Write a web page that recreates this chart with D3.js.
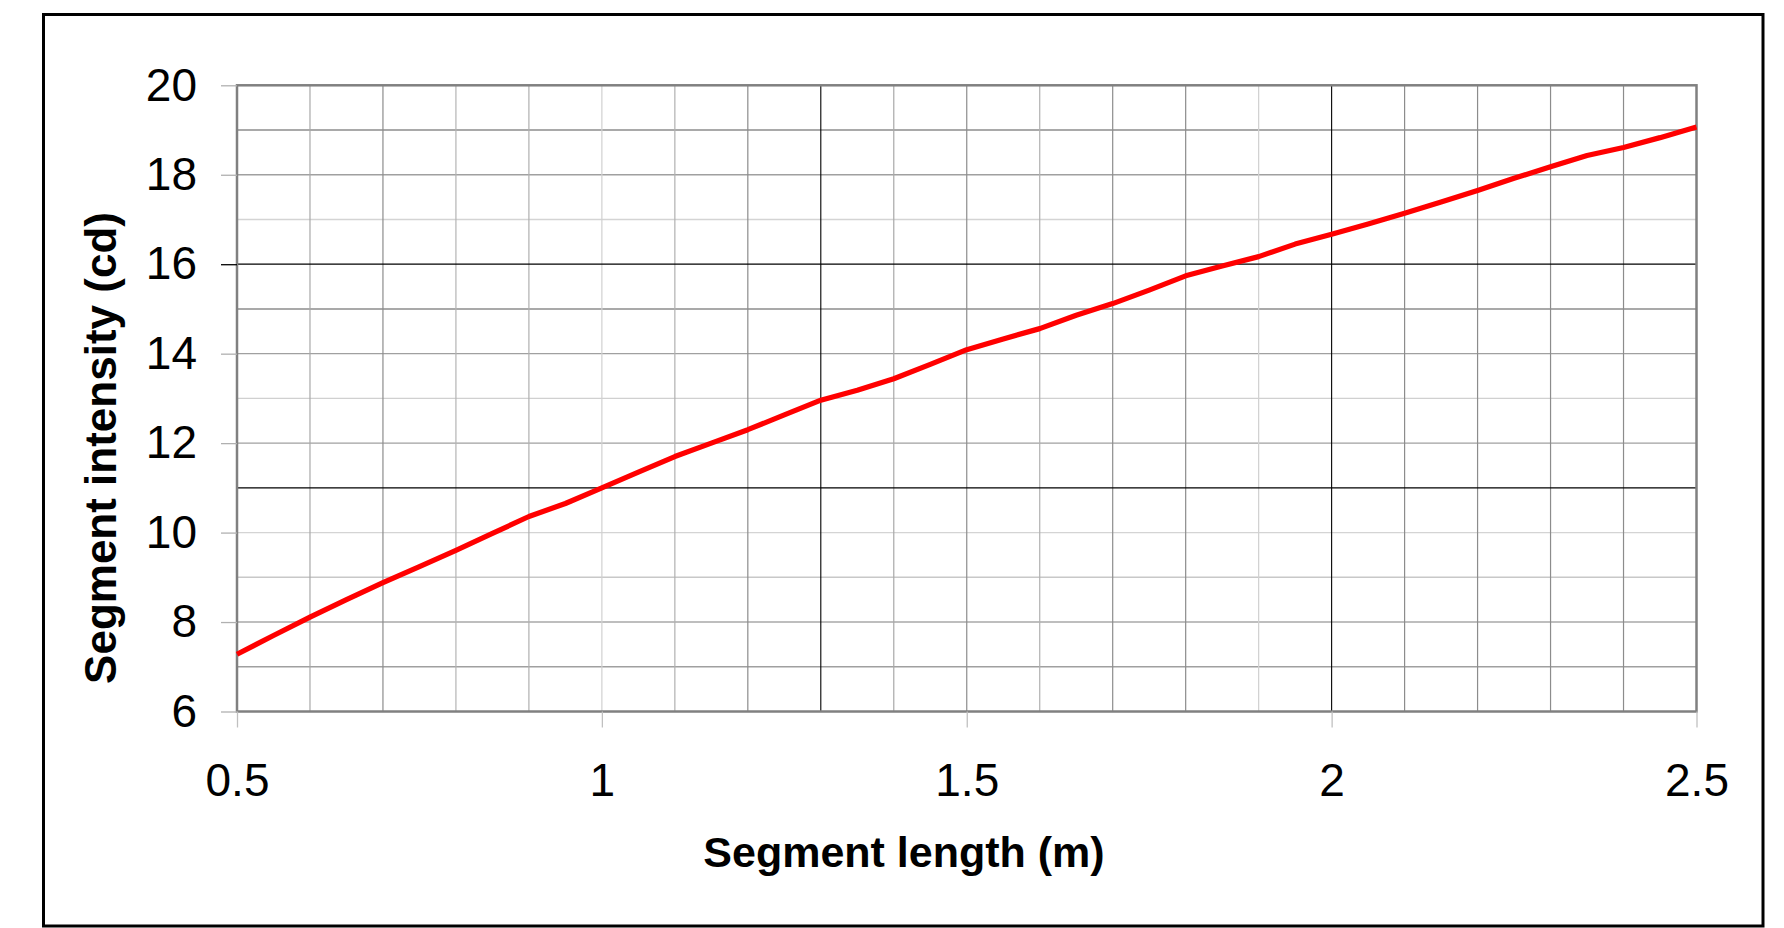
<!DOCTYPE html>
<html>
<head>
<meta charset="utf-8">
<script src="https://cdn.jsdelivr.net/npm/d3@7/dist/d3.min.js"></script>
<style>
  html, body { margin: 0; padding: 0; background: #fff; }
  svg { display: block; }
  text { font-family: "Liberation Sans", Arial, sans-serif; fill: #000; }
</style>
</head>
<body>
<svg id="chart" width="1784" height="928"></svg>
<script>
// ---- data ----
const segmentLength = [0.5, 0.55, 0.6, 0.65, 0.7, 0.75, 0.8, 0.85, 0.9, 0.95,
  1.0, 1.05, 1.1, 1.15, 1.2, 1.25, 1.3, 1.35, 1.4, 1.45,
  1.5, 1.55, 1.6, 1.65, 1.7, 1.75, 1.8, 1.85, 1.9, 1.95,
  2.0, 2.05, 2.1, 2.15, 2.2, 2.25, 2.3, 2.35, 2.4, 2.45, 2.5];
const segmentIntensity = [7.28, 7.7, 8.11, 8.5, 8.88, 9.24, 9.6, 9.98, 10.36, 10.65,
  11.0, 11.35, 11.7, 12.0, 12.3, 12.63, 12.96, 13.18, 13.44, 13.76,
  14.09, 14.33, 14.56, 14.86, 15.12, 15.42, 15.74, 15.96, 16.17, 16.45,
  16.67, 16.9, 17.14, 17.39, 17.65, 17.92, 18.18, 18.43, 18.61, 18.83, 19.07];
const xTickValues = [0.5, 1, 1.5, 2, 2.5];
const yTickValues = [6, 8, 10, 12, 14, 16, 18, 20];
const xGridValues = [0.6, 0.7, 0.8, 0.9, 1.0, 1.1, 1.2, 1.4, 1.5, 1.6, 1.7, 1.8, 1.9, 2.1, 2.2, 2.3, 2.4];
const yGridValues = [7, 8, 9, 10, 12, 13, 14, 15, 17, 18, 19];
const xMajorGrid = [1.3, 2.0];
const yMajorGrid = [11, 16];
const xLabel = "Segment length (m)";
const yLabel = "Segment intensity (cd)";

// ---- styles (shade of each grid line, as scanned) ----
const xGridShade = {0.6:"#a8a8a8",0.7:"#8c8c8c",0.8:"#b4b4b4",0.9:"#b0b0b0",1.0:"#d0d0d0",1.1:"#b0b0b0",1.2:"#8c8c8c",
  1.4:"#a8a8a8",1.5:"#8c8c8c",1.6:"#b0b0b0",1.7:"#8c8c8c",1.8:"#8c8c8c",1.9:"#d0d0d0",2.1:"#8c8c8c",2.2:"#8c8c8c",2.3:"#8c8c8c",2.4:"#8c8c8c"};
const yGridShade = {7:"#a0a0a0",8:"#a8a8a8",9:"#c8c8c8",10:"#d4d4d4",12:"#a0a0a0",13:"#d0d0d0",14:"#a0a0a0",15:"#8c8c8c",17:"#d4d4d4",18:"#a0a0a0",19:"#8c8c8c"};

const svg = d3.select("#chart");
const pLeft = 237, pRight = 1696.5, pTop = 85.3, pBottom = 711.5;

const x = d3.scaleLinear().domain([0.5, 2.5]).range([pLeft, pRight]);
const y = d3.scaleLinear().domain([6, 20]).range([pBottom, pTop]);

// outer frame
svg.append("rect")
  .attr("x", 43.5).attr("y", 14.5).attr("width", 1719.5).attr("height", 911.5)
  .attr("fill", "#fff").attr("stroke", "#000").attr("stroke-width", 3);

// minor grid
const g = svg.append("g");
g.selectAll("line.hg").data(yGridValues).join("line").attr("class", "hg")
  .attr("x1", pLeft).attr("x2", pRight)
  .attr("y1", d => y(d)).attr("y2", d => y(d))
  .attr("stroke", d => yGridShade[d]).attr("stroke-width", 1.4);
g.selectAll("line.vg").data(xGridValues).join("line").attr("class", "vg")
  .attr("x1", d => x(d)).attr("x2", d => x(d))
  .attr("y1", pTop).attr("y2", pBottom)
  .attr("stroke", d => xGridShade[d]).attr("stroke-width", 1.2);
// major (black) grid
g.selectAll("line.hm").data(yMajorGrid).join("line").attr("class", "hm")
  .attr("x1", pLeft).attr("x2", pRight)
  .attr("y1", d => y(d)).attr("y2", d => y(d))
  .attr("stroke", "#000").attr("stroke-width", 1.3);
g.selectAll("line.vm").data(xMajorGrid).join("line").attr("class", "vm")
  .attr("x1", d => x(d)).attr("x2", d => x(d))
  .attr("y1", pTop).attr("y2", pBottom)
  .attr("stroke", "#000").attr("stroke-width", 1.1);

// plot border
svg.append("rect")
  .attr("x", pLeft).attr("y", pTop).attr("width", pRight - pLeft).attr("height", pBottom - pTop)
  .attr("fill", "none").attr("stroke", "#808080").attr("stroke-width", 2.5);

// axes
const yAxis = d3.axisLeft(y).tickValues(yTickValues).tickSize(16).tickPadding(24).tickFormat(d3.format("d"));
const ya = svg.append("g").attr("transform", `translate(${pLeft},0)`).call(yAxis);
ya.select(".domain").remove();
ya.selectAll(".tick line").attr("stroke", d => d === 16 ? "#000" : "#b0b0b0").attr("stroke-width", 1.3);
ya.selectAll(".tick text").attr("font-size", 46).attr("font-family", "Liberation Sans, Arial, sans-serif").attr("fill", "#000");

const xAxis = d3.axisBottom(x).tickValues(xTickValues).tickSize(16).tickPadding(36).tickFormat(d => String(d));
const xa = svg.append("g").attr("transform", `translate(0,${pBottom})`).call(xAxis);
xa.select(".domain").remove();
xa.selectAll(".tick line").attr("stroke", "#c0c0c0").attr("stroke-width", 1.3);
xa.selectAll(".tick text").attr("font-size", 46).attr("font-family", "Liberation Sans, Arial, sans-serif").attr("fill", "#000");

// data line
const line = d3.line().x((d, i) => x(segmentLength[i])).y(d => y(d));
svg.append("path").datum(segmentIntensity)
  .attr("d", line).attr("fill", "none").attr("stroke", "#ff0000")
  .attr("stroke-width", 5.2).attr("stroke-linejoin", "round").attr("stroke-linecap", "butt");

// axis titles
svg.append("text").attr("x", 904).attr("y", 867).attr("text-anchor", "middle")
  .attr("font-size", 43).attr("font-weight", "bold").text(xLabel);
svg.append("text").attr("transform", "translate(116,448) rotate(-90)").attr("text-anchor", "middle")
  .attr("font-size", 44).attr("font-weight", "bold").text(yLabel);
</script>
</body>
</html>
